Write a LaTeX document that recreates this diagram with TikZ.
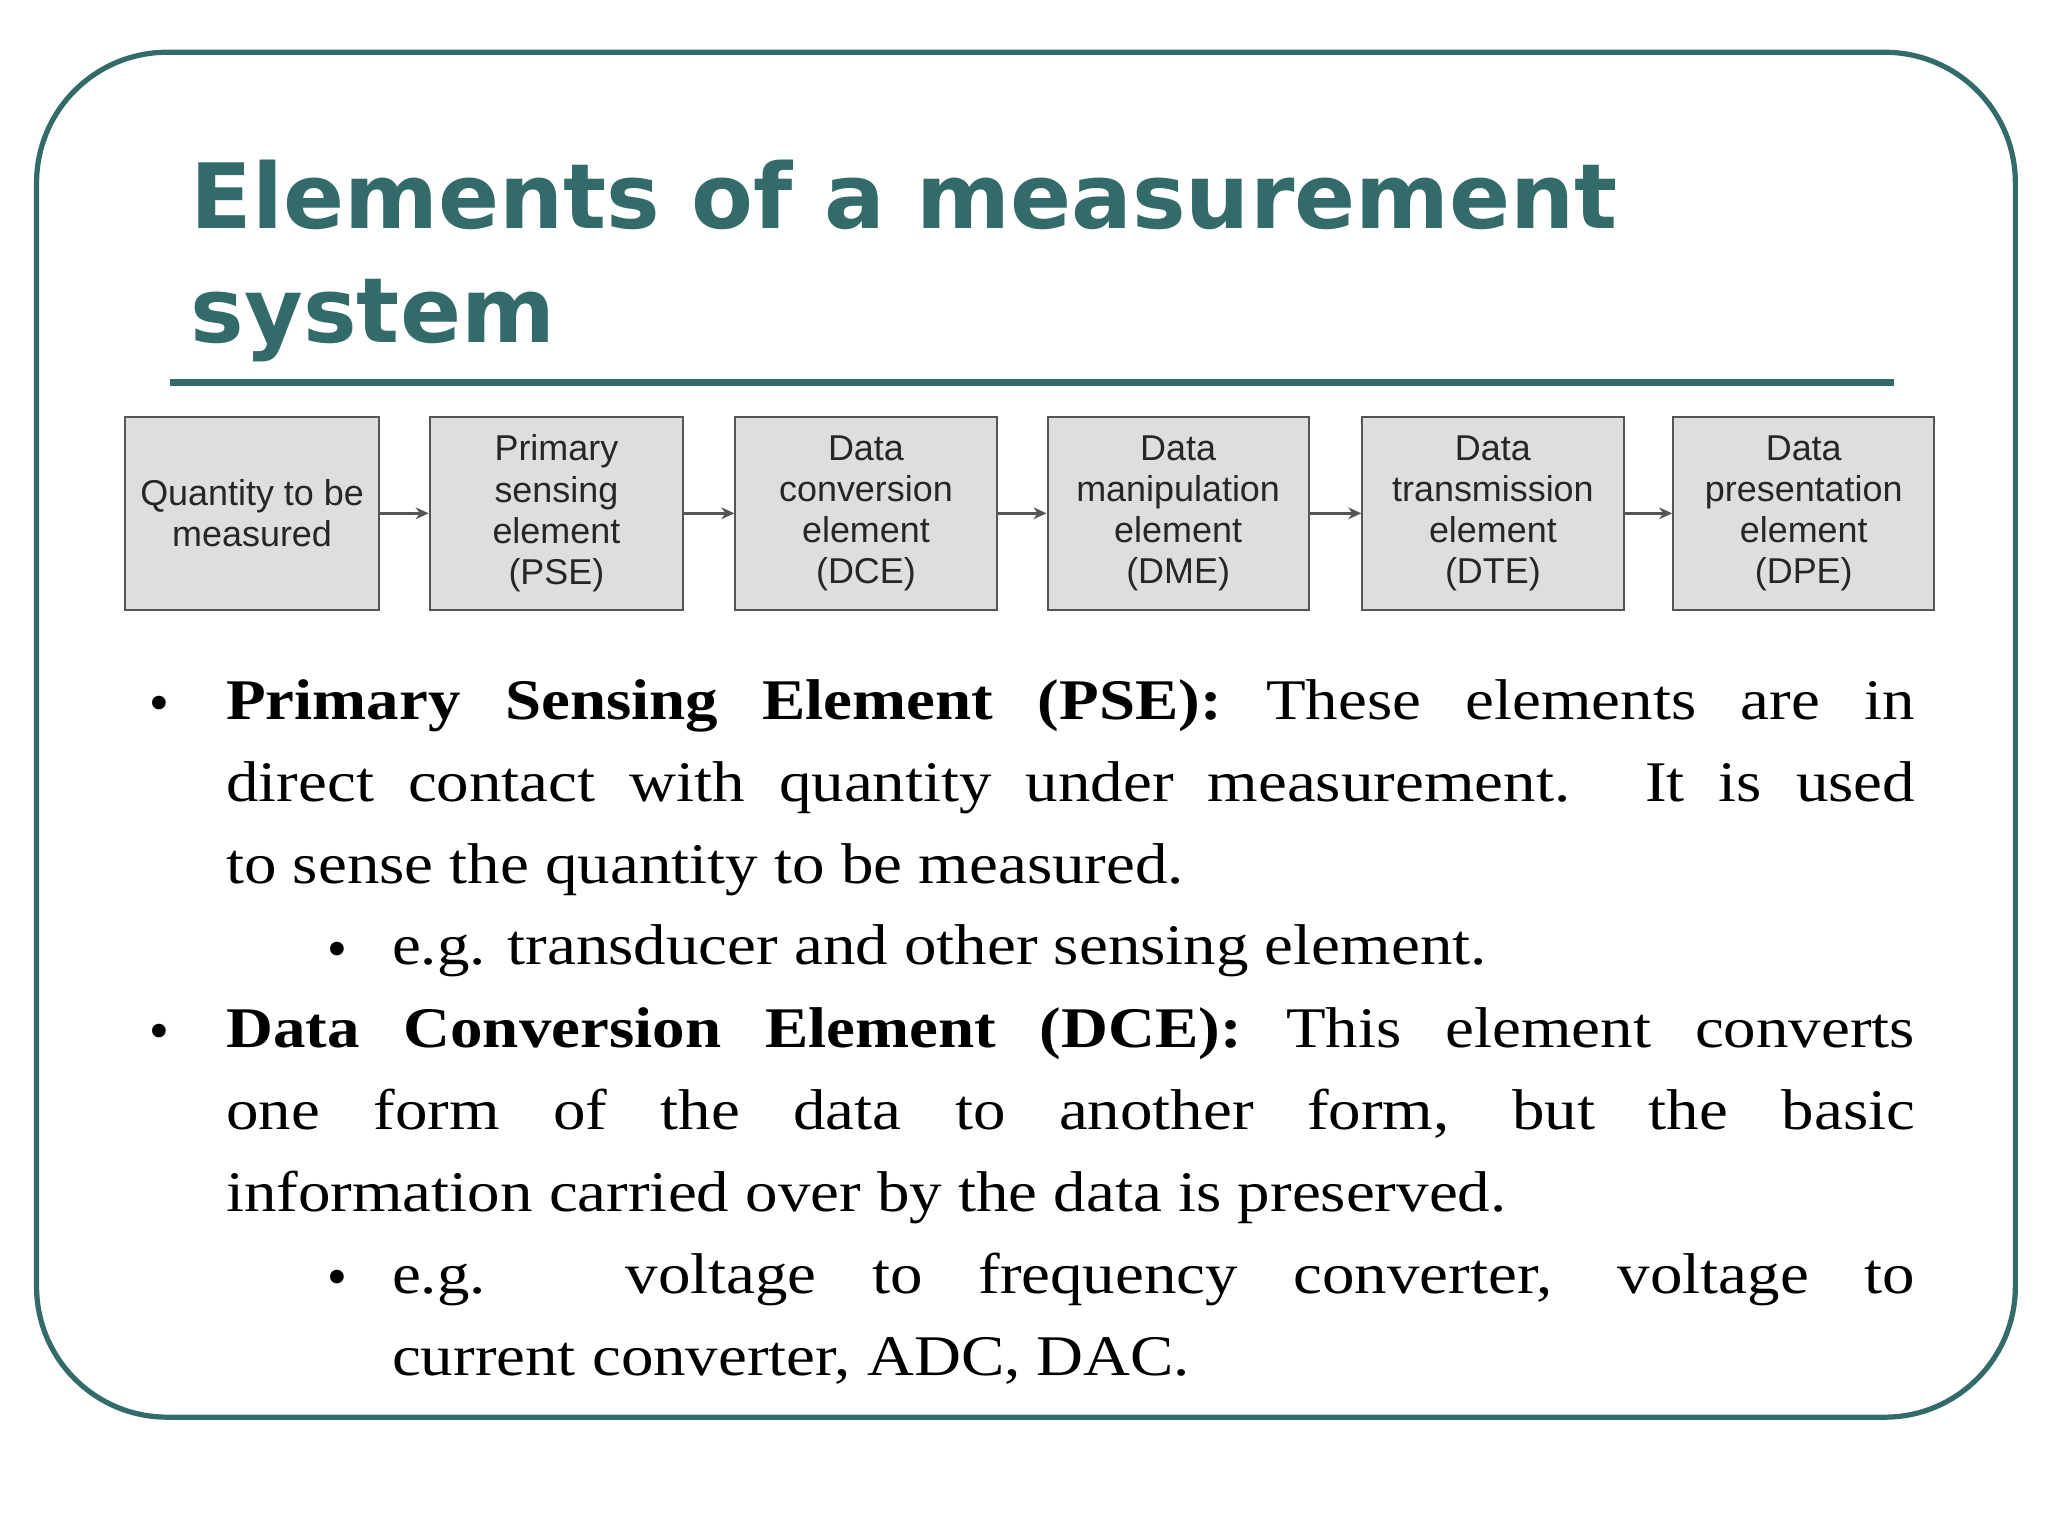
\documentclass[tikz,border=0pt]{standalone}
\usepackage{fontspec}
\setmainfont{Liberation Serif}[FakeStretch=1.13]
\newfontfamily\titlefont{DejaVu Sans}
\newfontfamily\boxfont{Liberation Sans}
\newfontfamily\bulfont{DejaVu Sans}
\usetikzlibrary{arrows.meta}
\definecolor{teal1}{HTML}{336B6B}
\definecolor{boxfill}{HTML}{DEDEDE}
\definecolor{boxline}{HTML}{555555}
\tikzset{
 elbox/.style={draw=boxline,line width=1.5pt,fill=boxfill,minimum height=148pt,inner sep=0pt,align=center,font=\boxfont\fontsize{27.5}{31.5}\selectfont,text=black!85},
 conn/.style={draw=boxline,line width=2pt,-{Stealth[length=10pt,width=9pt]}},
 para/.style={anchor=north west,text width=1293pt,align=justify,inner sep=0pt,font=\fontsize{44}{63}\selectfont},
 subpara/.style={anchor=north west,text width=1166pt,align=justify,inner sep=0pt,font=\fontsize{44}{63}\selectfont},
 bul/.style={anchor=base,inner sep=0pt,font=\bulfont\fontsize{36}{63}\selectfont}
}
\begin{document}
\begin{tikzpicture}[x=1pt,y=-1pt]
\useasboundingbox (0,0) rectangle (1568,1176);
\draw[teal1,line width=4pt,rounded corners=100pt] (28,40) rectangle (1543,1085);
\node[anchor=base west,inner sep=0pt,text=teal1,font=\titlefont\bfseries\fontsize{69}{88}\selectfont] (t1) at (146,175) {Elements of a measurement};
\node[anchor=base west,inner sep=0pt,text=teal1,font=\titlefont\bfseries\fontsize{69}{88}\selectfont] (t2) at (146,262) {system};
\draw[teal1,line width=5pt] (130,293) -- (1450,293);
\node[elbox,minimum width=194pt] (q) at (193,393) {Quantity to be\\measured};
\node[elbox,minimum width=194pt] (p) at (426,393) {Primary\\sensing\\element\\(PSE)};
\node[elbox,minimum width=200pt] (c) at (663,393) {Data\\conversion\\element\\(DCE)};
\node[elbox,minimum width=200pt] (m) at (902,393) {Data\\manipulation\\element\\(DME)};
\node[elbox,minimum width=200pt] (t) at (1143,393) {Data\\transmission\\element\\(DTE)};
\node[elbox,minimum width=200pt] (d) at (1381,393) {Data\\presentation\\element\\(DPE)};
\draw[conn] (q) -- (p);
\draw[conn] (p) -- (c);
\draw[conn] (c) -- (m);
\draw[conn] (m) -- (t);
\draw[conn] (t) -- (d);
\node[bul] (b1) at (122,552) {•};
\node[para] (p1) at (173,520) {\textbf{Primary Sensing Element (PSE):} These elements are in\linebreak direct contact with quantity under measurement. It is used\linebreak to sense the quantity to be measured.};
\node[bul] (b2) at (258,740) {•};
\node[subpara] (p2) at (300,708) {e.g. transducer and other sensing element.};
\node[bul] (b3) at (122,803) {•};
\node[para] (p3) at (173,771) {\textbf{Data Conversion Element (DCE):} This element converts\linebreak one form of the data to another form, but the basic\linebreak information carried over by the data is preserved.};
\node[bul] (b4) at (258,991) {•};
\node[subpara] (p4) at (300,959) {e.g. voltage to frequency converter, voltage to\linebreak current converter, ADC, DAC.};
\end{tikzpicture}
\end{document}
